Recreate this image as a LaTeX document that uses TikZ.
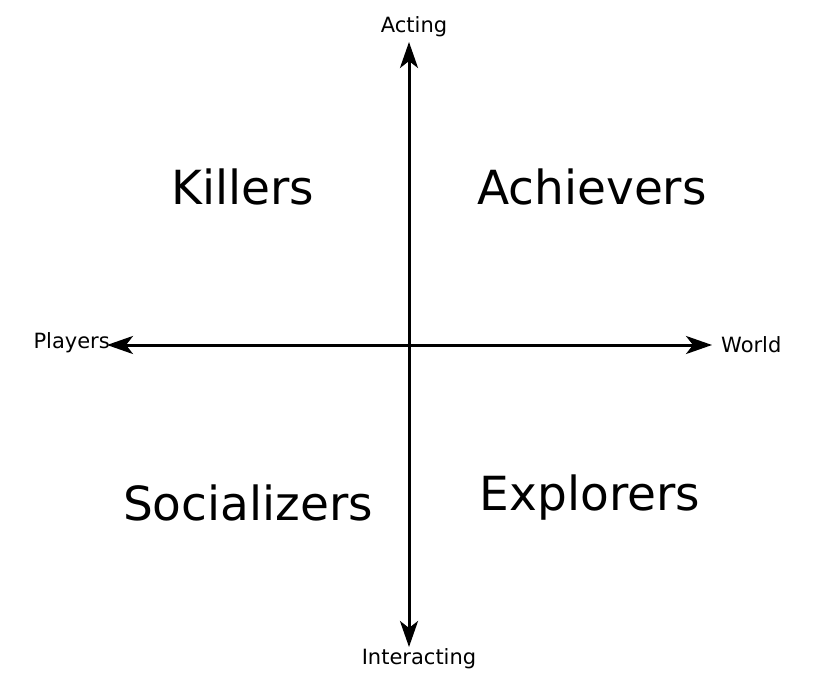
\documentclass[tikz,border=0pt]{standalone}
\usepackage{fontspec}
\setmainfont{DejaVu Sans}
\usetikzlibrary{arrows.meta}
\begin{document}
\begin{tikzpicture}[x=1pt,y=-1pt,
  axis/.style={line width=3pt,-{Stealth[length=26pt,width=18pt,inset=7pt]}},
  small/.style={font=\fontsize{21}{24}\selectfont,inner sep=0pt},
  big/.style={font=\fontsize{47}{52}\selectfont,inner sep=0pt}]
\useasboundingbox (0,0) rectangle (813,692);
\coordinate (c) at (409,345);
\coordinate (top) at (409,42);
\coordinate (bot) at (409,647);
\coordinate (left) at (107,345);
\coordinate (right) at (712,345);
\draw[axis] (c) -- (top);
\draw[axis] (c) -- (bot);
\draw[axis] (c) -- (left);
\draw[axis] (c) -- (right);
\node[small] (acting) at (414,27) {Acting};
\node[small] (interacting) at (419,659) {Interacting};
\node[small,anchor=east] (players) at (110,343) {Players};
\node[small,anchor=west] (world) at (721,345) {World};
\node[big] (killers) at (243,187) {Killers};
\node[big] (achievers) at (592,187) {Achievers};
\node[big] (socializers) at (248,503) {Socializers};
\node[big] (explorers) at (590,498) {Explorers};
\end{tikzpicture}
\end{document}
